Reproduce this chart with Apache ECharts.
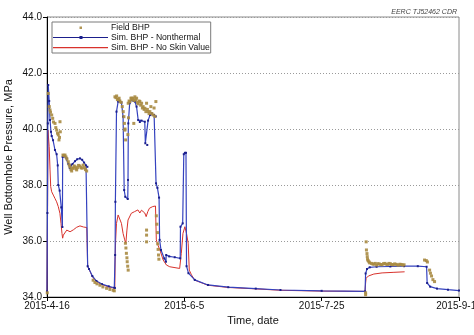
<!DOCTYPE html>
<html>
<head>
<meta charset="utf-8">
<script src="https://cdn.jsdelivr.net/npm/echarts@6/dist/echarts.min.js"></script>
<style>
  html, body { margin: 0; padding: 0; background: #fff; }
  #chart { width: 474px; height: 335px; }
</style>
</head>
<body>
<div id="chart"></div>
<script>
// Time axis: days elapsed since 2015-04-16
var startDate = Date.UTC(2015, 3, 16);
var dayTicks = [0, 50, 100, 150];
var pressureTicks = [34, 36, 38, 40, 42, 44];

var seriesNames = ['Field BHP', 'Sim. BHP - Nonthermal', 'Sim. BHP - No Skin Value'];

// Field bottomhole pressure readings [day, MPa]
var fieldBhp = [
  [0.1, 34.15],
  [0.47, 41.27], [0.84, 40.8], [1.09, 40.68], [1.27, 40.6], [1.71, 40.5], [2.07, 40.38],
  [2.36, 40.25], [2.91, 40.2], [3.2, 40.05], [3.53, 39.96], [3.82, 39.85], [4.11, 39.79],
  [4.36, 39.61], [4.55, 39.7], [4.73, 40.26], [4.85, 39.9],
  [5.82, 39.07], [6.18, 39.05], [6.55, 39.07], [6.91, 39.0], [7.27, 38.93], [7.75, 38.83],
  [8.07, 38.72], [8.36, 38.65], [8.73, 38.55], [8.98, 38.5], [9.27, 38.6], [9.56, 38.6],
  [9.89, 38.68], [10.18, 38.65], [10.55, 38.58], [10.8, 38.54], [11.09, 38.62], [11.45, 38.7],
  [12.0, 38.68], [12.36, 38.62], [12.73, 38.6], [13.2, 38.71], [13.64, 38.62], [14.0, 38.55],
  [14.44, 38.5],
  [16.8, 34.6], [17.45, 34.52], [18.2, 34.47], [19.27, 34.42], [20.36, 34.36], [21.7, 34.31],
  [22.9, 34.27], [24.1, 34.24], [24.5, 34.22],
  [24.73, 41.15], [25.1, 41.12], [25.35, 41.18], [25.64, 41.05], [25.93, 41.06], [26.25, 41.1],
  [26.55, 41.0], [26.98, 40.95], [27.4, 40.8], [27.75, 40.62], [28.0, 40.44], [28.18, 40.2],
  [28.36, 39.96], [28.62, 39.61],
  [28.55, 35.92], [28.73, 35.75], [28.9, 35.56], [29.1, 35.4], [29.2, 35.26], [29.38, 35.1],
  [29.56, 34.96],
  [29.45, 39.8], [29.67, 40.4],
  [29.56, 40.92], [29.89, 41.0], [30.18, 40.98], [30.55, 41.1], [30.8, 41.1], [31.1, 41.05],
  [31.38, 41.1], [31.71, 41.02], [32.0, 41.15], [32.29, 41.05], [32.62, 41.1], [32.91, 40.95],
  [33.2, 40.9], [33.53, 41.0], [33.82, 40.98], [34.11, 40.85], [34.44, 40.92], [34.73, 40.75],
  [35.0, 40.8], [35.35, 40.7], [35.64, 40.74], [36.0, 40.62], [36.25, 40.92], [36.55, 40.7],
  [36.84, 40.62], [37.16, 40.55], [37.45, 40.62], [37.82, 40.8], [38.18, 40.55], [38.65, 40.5],
  [38.98, 40.75], [39.27, 40.45], [39.64, 40.98], [31.6, 40.2], [28.4, 40.0],
  [36.25, 36.39], [36.25, 36.21], [36.25, 35.97],
  [39.8, 36.9], [40.0, 36.6], [40.2, 36.3], [40.3, 35.9], [40.45, 35.7], [40.6, 35.5], [40.73, 35.35],
  [116.0, 34.15], [116.0, 34.08],
  [116.2, 35.97], [116.3, 35.68], [116.5, 35.55], [116.6, 35.44], [116.7, 35.35], [116.9, 35.3],
  [117.2, 35.26], [117.45, 35.22], [118.1, 35.2], [118.6, 35.18], [119.0, 35.17], [119.5, 35.2],
  [120.0, 35.14], [120.5, 35.19], [121.0, 35.18], [121.5, 35.16], [122.0, 35.15], [122.5, 35.19],
  [123.0, 35.2], [123.5, 35.17], [124.0, 35.16], [124.5, 35.2], [125.0, 35.19], [125.5, 35.16],
  [126.0, 35.15], [126.5, 35.18], [127.0, 35.17], [127.5, 35.15], [128.0, 35.14], [128.5, 35.17],
  [129.0, 35.16], [129.5, 35.14], [130.0, 35.15],
  [137.45, 35.32], [138.1, 35.3], [138.5, 35.25], [139.3, 34.96], [139.6, 34.85], [140.0, 34.75],
  [140.5, 34.62], [141.1, 34.55]
];

// Simulated BHP, nonthermal case [day, MPa]
var simNonthermal = [
  [0.0, 34.2], [0.15, 37.0], [0.3, 40.2], [0.45, 41.57], [0.8, 41.0], [1.1, 40.32], [1.45, 39.9],
  [1.7, 39.75], [2.2, 39.6], [2.9, 39.25], [3.5, 39.1], [3.9, 38.7], [4.1, 38.0], [4.6, 37.8],
  [5.2, 37.2], [5.6, 36.5], [5.7, 39.0], [6.0, 39.05], [6.6, 39.02], [7.2, 38.95], [7.8, 38.75],
  [8.3, 38.6], [8.8, 38.7], [9.3, 38.75], [10.2, 38.85], [11.0, 38.92], [12.0, 38.95], [12.8, 38.9],
  [13.5, 38.8], [14.2, 38.7], [14.7, 38.65], [14.8, 35.1], [15.3, 35.0], [16.5, 34.75], [18.0, 34.57],
  [20.0, 34.46], [22.5, 34.38], [24.5, 34.33], [24.7, 34.32], [24.8, 35.5], [24.9, 37.4],
  [25.3, 40.62], [25.9, 40.98], [26.5, 41.01], [27.1, 40.95], [27.7, 40.44], [28.1, 37.82],
  [28.5, 37.58], [29.4, 37.5], [29.5, 38.18], [29.6, 40.2], [30.1, 40.92], [30.8, 41.04],
  [31.5, 41.0], [32.0, 40.98], [32.6, 40.8], [33.2, 40.32], [33.8, 40.25], [34.4, 40.3],
  [35.6, 40.26], [35.8, 39.49], [36.5, 39.43], [36.8, 40.3], [37.5, 40.5], [38.1, 40.56],
  [39.0, 40.5], [39.6, 40.45], [39.7, 38.06], [40.2, 37.9], [40.8, 37.55], [41.0, 36.04],
  [41.5, 35.68], [42.7, 35.38], [43.3, 35.26], [43.4, 35.5], [44.5, 35.45], [46.5, 35.42],
  [48.5, 35.38], [48.6, 36.51], [49.4, 36.63], [49.8, 39.1], [50.2, 39.15], [50.6, 39.15],
  [50.8, 35.1], [51.5, 34.85], [53.8, 34.61], [58.6, 34.43], [66.0, 34.35], [76.0, 34.3],
  [85.0, 34.25], [100.0, 34.22], [115.8, 34.2], [116.0, 34.84], [116.5, 35.0], [117.5, 35.06],
  [120.0, 35.08], [125.0, 35.09], [130.0, 35.1], [135.0, 35.1], [138.2, 35.08], [138.4, 34.5],
  [139.5, 34.37], [142.0, 34.3], [146.0, 34.26], [150.0, 34.23]
];

// Simulated BHP without skin [day, MPa]
var simNoSkin = [
  [0.0, 34.2], [0.2, 37.0], [0.35, 39.96], [0.5, 40.0], [0.8, 39.37], [1.1, 38.54], [1.35, 37.94],
  [1.7, 37.76], [2.3, 37.64], [2.9, 37.52], [3.5, 37.4], [4.1, 37.23], [4.7, 36.99], [5.1, 36.63],
  [5.45, 36.27], [5.7, 36.1], [5.95, 36.21], [7.2, 36.39], [8.4, 36.33], [9.6, 36.4], [10.8, 36.49],
  [12.0, 36.54], [13.3, 36.5], [14.5, 36.48], [14.7, 36.45], [14.8, 35.1], [15.3, 35.0],
  [16.5, 34.73], [18.0, 34.55], [20.0, 34.44], [22.5, 34.36], [24.7, 34.31], [24.8, 35.32],
  [25.0, 36.04], [25.3, 36.63], [25.9, 36.93], [26.5, 36.99], [27.1, 36.63], [27.7, 36.27],
  [28.3, 36.04], [28.7, 35.92], [29.1, 36.39], [29.5, 36.75], [30.7, 36.99], [31.9, 37.05],
  [33.1, 37.11], [33.8, 37.0], [34.4, 37.1], [35.1, 37.17], [35.6, 37.0], [36.1, 36.87],
  [36.7, 37.05], [37.3, 37.17], [38.5, 37.23], [39.5, 37.25], [39.8, 36.04], [40.4, 35.85],
  [41.1, 35.68], [42.3, 35.32], [43.5, 35.14], [44.7, 35.08], [48.3, 35.02], [48.9, 35.56],
  [49.5, 36.27], [50.2, 36.51], [50.8, 36.27], [51.4, 35.92], [51.8, 34.96], [52.6, 34.79],
  [53.8, 34.6], [58.6, 34.42], [66.0, 34.34], [76.0, 34.29], [85.0, 34.24], [100.0, 34.21],
  [115.8, 34.2], [116.0, 34.5], [116.2, 34.67], [117.0, 34.75], [119.0, 34.82], [122.0, 34.86],
  [126.0, 34.88], [130.2, 34.9]
];

var FONT = 'Arial, "Liberation Sans", sans-serif';

function dayLabel(d) {
  var t = new Date(startDate + d * 86400000);
  return t.getUTCFullYear() + '-' + (t.getUTCMonth() + 1) + '-' + t.getUTCDate();
}

// Legend icons drawn in a 55 x 9 box (tiny corner specks fix the box size)
var box = 'M0,0h0.001v0.001h-0.001z M55,9h0.001v0.001h-0.001z ';
var iconDot = 'path://' + box + 'M26.5,3.5h2.5v2.5h-2.5z';
var iconLineMark = 'path://' + box + 'M0,4h55v1h-55z M26.5,3h3v3h-3z';
var iconLine = 'path://' + box + 'M0,4h55v1.2h-55z';

var chart = echarts.init(document.getElementById('chart'), null, { renderer: 'canvas' });
chart.setOption({
  animation: false,
  backgroundColor: '#ffffff',
  title: {
    text: 'EERC TJ52462 CDR',
    right: 17,
    top: 9,
    padding: 0,
    textStyle: { fontFamily: FONT, fontSize: 7, fontStyle: 'italic', fontWeight: 'normal', color: '#444' }
  },
  grid: {
    left: 47, right: 15, top: 17, bottom: 38,
    containLabel: false,
    outerBoundsMode: 'none',
    show: true, borderColor: '#8a8a8a', borderWidth: 1, backgroundColor: 'transparent'
  },
  legend: {
    orient: 'vertical',
    left: 52, top: 22,
    padding: [1, 1, 1, 1],
    itemGap: 1,
    itemWidth: 55,
    itemHeight: 9,
    backgroundColor: '#ffffff',
    borderColor: '#7a7a7a',
    borderWidth: 1,
    borderRadius: 0,
    textStyle: { fontFamily: FONT, fontSize: 8.6, color: '#111', padding: [0, 0, 0, -2] },
    data: [
      { name: seriesNames[0], icon: iconDot },
      { name: seriesNames[1], icon: iconLineMark },
      { name: seriesNames[2], icon: iconLine }
    ]
  },
  xAxis: {
    type: 'value',
    min: dayTicks[0],
    max: dayTicks[dayTicks.length - 1],
    interval: dayTicks[1] - dayTicks[0],
    name: 'Time, date',
    nameLocation: 'middle',
    nameGap: 17,
    nameTextStyle: { fontFamily: FONT, fontSize: 11, color: '#111' },
    axisLine: { onZero: false, lineStyle: { color: '#000', width: 1 } },
    axisTick: { show: true, length: 4, lineStyle: { color: '#000' } },
    axisLabel: {
      fontFamily: FONT, fontSize: 10, color: '#111', margin: 4,
      showMaxLabel: true, hideOverlap: false,
      alignMinLabel: 'center', alignMaxLabel: 'center',
      formatter: dayLabel
    },
    splitLine: { show: false }
  },
  yAxis: {
    type: 'value',
    min: pressureTicks[0],
    max: pressureTicks[pressureTicks.length - 1],
    interval: pressureTicks[1] - pressureTicks[0],
    name: 'Well Bottomhole Pressure, MPa',
    nameLocation: 'middle',
    nameGap: 33,
    nameMoveOverlap: false,
    nameTextStyle: { fontFamily: FONT, fontSize: 11, color: '#111' },
    axisLine: { show: true, lineStyle: { color: '#000', width: 1 } },
    axisTick: { show: true, length: 4, lineStyle: { color: '#000' } },
    axisLabel: {
      fontFamily: FONT, fontSize: 10, color: '#111', margin: 5,
      formatter: function (v) { return v.toFixed(1); }
    },
    splitLine: { show: true, lineStyle: { color: '#9a9a9a', type: [1, 2], width: 1 } }
  },
  series: [
    {
      name: seriesNames[2],
      type: 'line',
      data: simNoSkin,
      showSymbol: false,
      symbol: 'none',
      color: '#d8322c',
      lineStyle: { color: '#d8322c', width: 1 },
      z: 2
    },
    {
      name: seriesNames[1],
      type: 'line',
      data: simNonthermal,
      symbol: 'rect',
      symbolSize: 2,
      showSymbol: true,
      color: '#1b1f8c',
      itemStyle: { color: '#1b1f8c' },
      lineStyle: { color: '#3442bf', width: 1.2 },
      z: 3
    },
    {
      name: seriesNames[0],
      type: 'scatter',
      data: fieldBhp,
      symbol: 'rect',
      symbolSize: 3,
      color: '#a88b43',
      itemStyle: { color: '#a88b43', opacity: 0.9 },
      z: 4
    }
  ]
});
</script>
</body>
</html>
